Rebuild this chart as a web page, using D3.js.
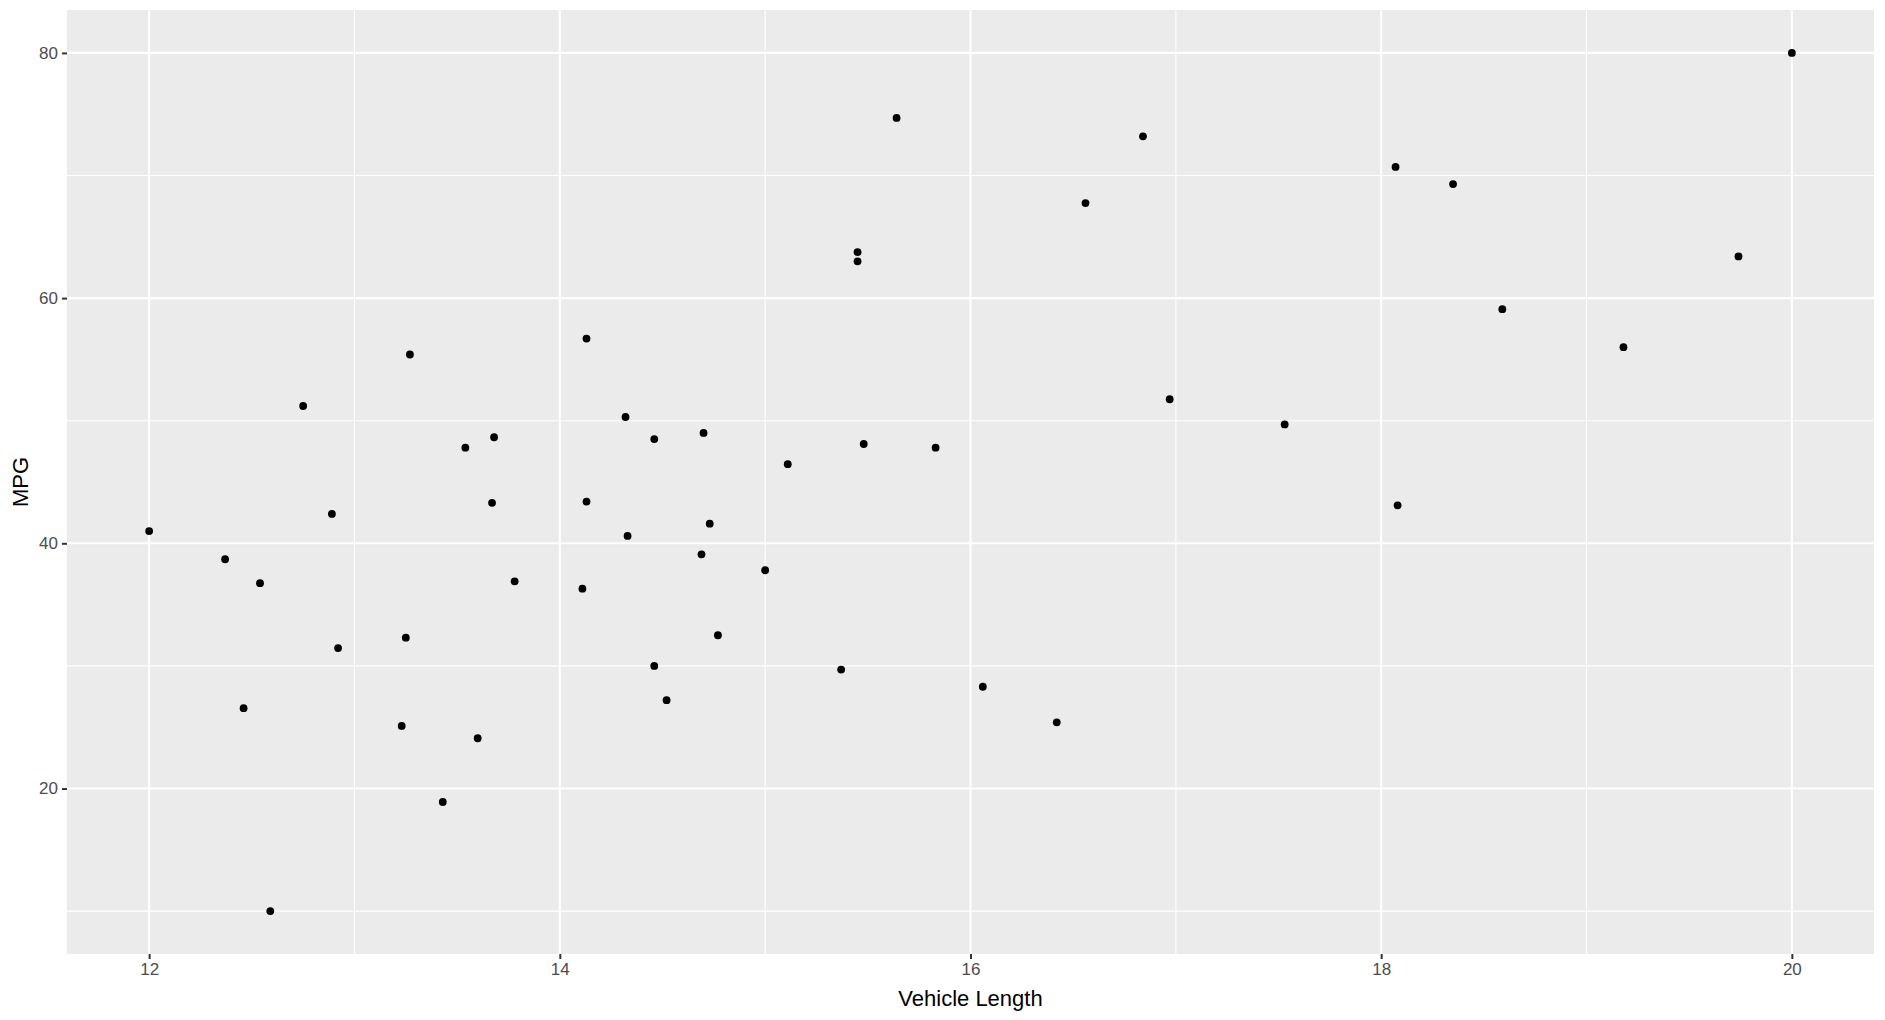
<!DOCTYPE html>
<html>
<head>
<meta charset="utf-8">
<script src="https://cdn.jsdelivr.net/npm/d3@7"></script>
<style>
  body { margin: 0; background: #fff; }
  svg { display: block; font-family: "Liberation Sans", Arial, sans-serif; }
</style>
</head>
<body>
<svg id="chart"></svg>
<script>
const width = 1885;
const height = 1020;

// data
const vehicleLength = [
  12.0, 12.37, 12.54, 12.46, 12.59, 12.75, 12.89, 12.92, 13.27, 13.25,
  13.23, 13.43, 13.54, 13.68, 13.67, 13.60, 13.78, 14.13, 14.13, 14.11,
  14.32, 14.33, 14.46, 14.46, 14.52, 14.70, 14.73, 14.69, 14.77, 15.0,
  15.11, 15.37, 15.45, 15.45, 15.48, 15.64, 15.83, 16.06, 16.42, 16.56,
  16.84, 16.97, 17.53, 18.07, 18.08, 18.35, 18.59, 19.18, 19.74, 20.0
];
const mpg = [
  41.0, 38.7, 36.75, 26.55, 10.0, 51.2, 42.4, 31.45, 55.4, 32.3,
  25.1, 18.9, 47.8, 48.65, 43.3, 24.1, 36.9, 56.7, 43.4, 36.3,
  50.3, 40.6, 48.5, 30.0, 27.2, 49.0, 41.6, 39.1, 32.5, 37.8,
  46.45, 29.7, 63.75, 63.0, 48.1, 74.7, 47.8, 28.3, 25.4, 67.75,
  73.2, 51.75, 49.7, 70.7, 43.1, 69.3, 59.1, 56.0, 63.4, 80.0
];
const xTicks = [12, 14, 16, 18, 20];
const xMinor = [13, 15, 17, 19];
const yTicks = [20, 40, 60, 80];
const yMinor = [10, 30, 50, 70];

const margin = { top: 10, right: 11, bottom: 66, left: 67 };
const innerW = width - margin.left - margin.right;
const innerH = height - margin.top - margin.bottom;

const svg = d3.select("#chart")
    .attr("width", width)
    .attr("height", height);

// ggplot-like 5% expansion
const xExt = d3.extent(vehicleLength);
const yExt = d3.extent(mpg);
const xPad = (xExt[1] - xExt[0]) * 0.05;
const yPad = (yExt[1] - yExt[0]) * 0.05;

const x = d3.scaleLinear()
    .domain([xExt[0] - xPad, xExt[1] + xPad])
    .range([0, innerW]);
const y = d3.scaleLinear()
    .domain([yExt[0] - yPad, yExt[1] + yPad])
    .range([innerH, 0]);

const g = svg.append("g")
    .attr("transform", `translate(${margin.left},${margin.top})`);

// panel background
g.append("rect")
    .attr("width", innerW)
    .attr("height", innerH)
    .attr("fill", "#EBEBEB");

// minor grid
g.append("g").selectAll("line")
  .data(yMinor)
  .join("line")
    .attr("x1", 0).attr("x2", innerW)
    .attr("y1", d => y(d)).attr("y2", d => y(d))
    .attr("stroke", "#fff").attr("stroke-width", 1.1);
g.append("g").selectAll("line")
  .data(xMinor)
  .join("line")
    .attr("y1", 0).attr("y2", innerH)
    .attr("x1", d => x(d)).attr("x2", d => x(d))
    .attr("stroke", "#fff").attr("stroke-width", 1.1);

// major grid
g.append("g").selectAll("line")
  .data(yTicks)
  .join("line")
    .attr("x1", 0).attr("x2", innerW)
    .attr("y1", d => y(d)).attr("y2", d => y(d))
    .attr("stroke", "#fff").attr("stroke-width", 2.1);
g.append("g").selectAll("line")
  .data(xTicks)
  .join("line")
    .attr("y1", 0).attr("y2", innerH)
    .attr("x1", d => x(d)).attr("x2", d => x(d))
    .attr("stroke", "#fff").attr("stroke-width", 2.1);

// axes
const xAxis = g.append("g")
    .attr("transform", `translate(0,${innerH})`)
    .call(d3.axisBottom(x).tickValues(xTicks).tickSize(5).tickPadding(4).tickFormat(d3.format("d")));
const yAxis = g.append("g")
    .call(d3.axisLeft(y).tickValues(yTicks).tickSize(5).tickPadding(4).tickFormat(d3.format("d")));

[xAxis, yAxis].forEach(a => {
  a.select(".domain").remove();
  a.selectAll(".tick line").attr("stroke", "#333333").attr("stroke-width", 2);
  a.selectAll(".tick text")
    .attr("fill", "#4D4D4D")
    .style("font-size", "17px")
    .style("font-family", "'Liberation Sans', Arial, sans-serif");
});

// points
g.append("g").selectAll("circle")
  .data(vehicleLength.map((v, i) => ({ len: v, mpg: mpg[i] })))
  .join("circle")
    .attr("cx", d => x(d.len))
    .attr("cy", d => y(d.mpg))
    .attr("r", 3.9)
    .attr("fill", "#000");

// axis titles
svg.append("text")
    .attr("x", margin.left + innerW / 2)
    .attr("y", 1006)
    .attr("text-anchor", "middle")
    .style("font-size", "22px")
    .attr("fill", "#000")
    .text("Vehicle Length");

svg.append("text")
    .attr("transform", `translate(28,${margin.top + innerH / 2}) rotate(-90)`)
    .attr("text-anchor", "middle")
    .style("font-size", "22px")
    .attr("fill", "#000")
    .text("MPG");
</script>
</body>
</html>
